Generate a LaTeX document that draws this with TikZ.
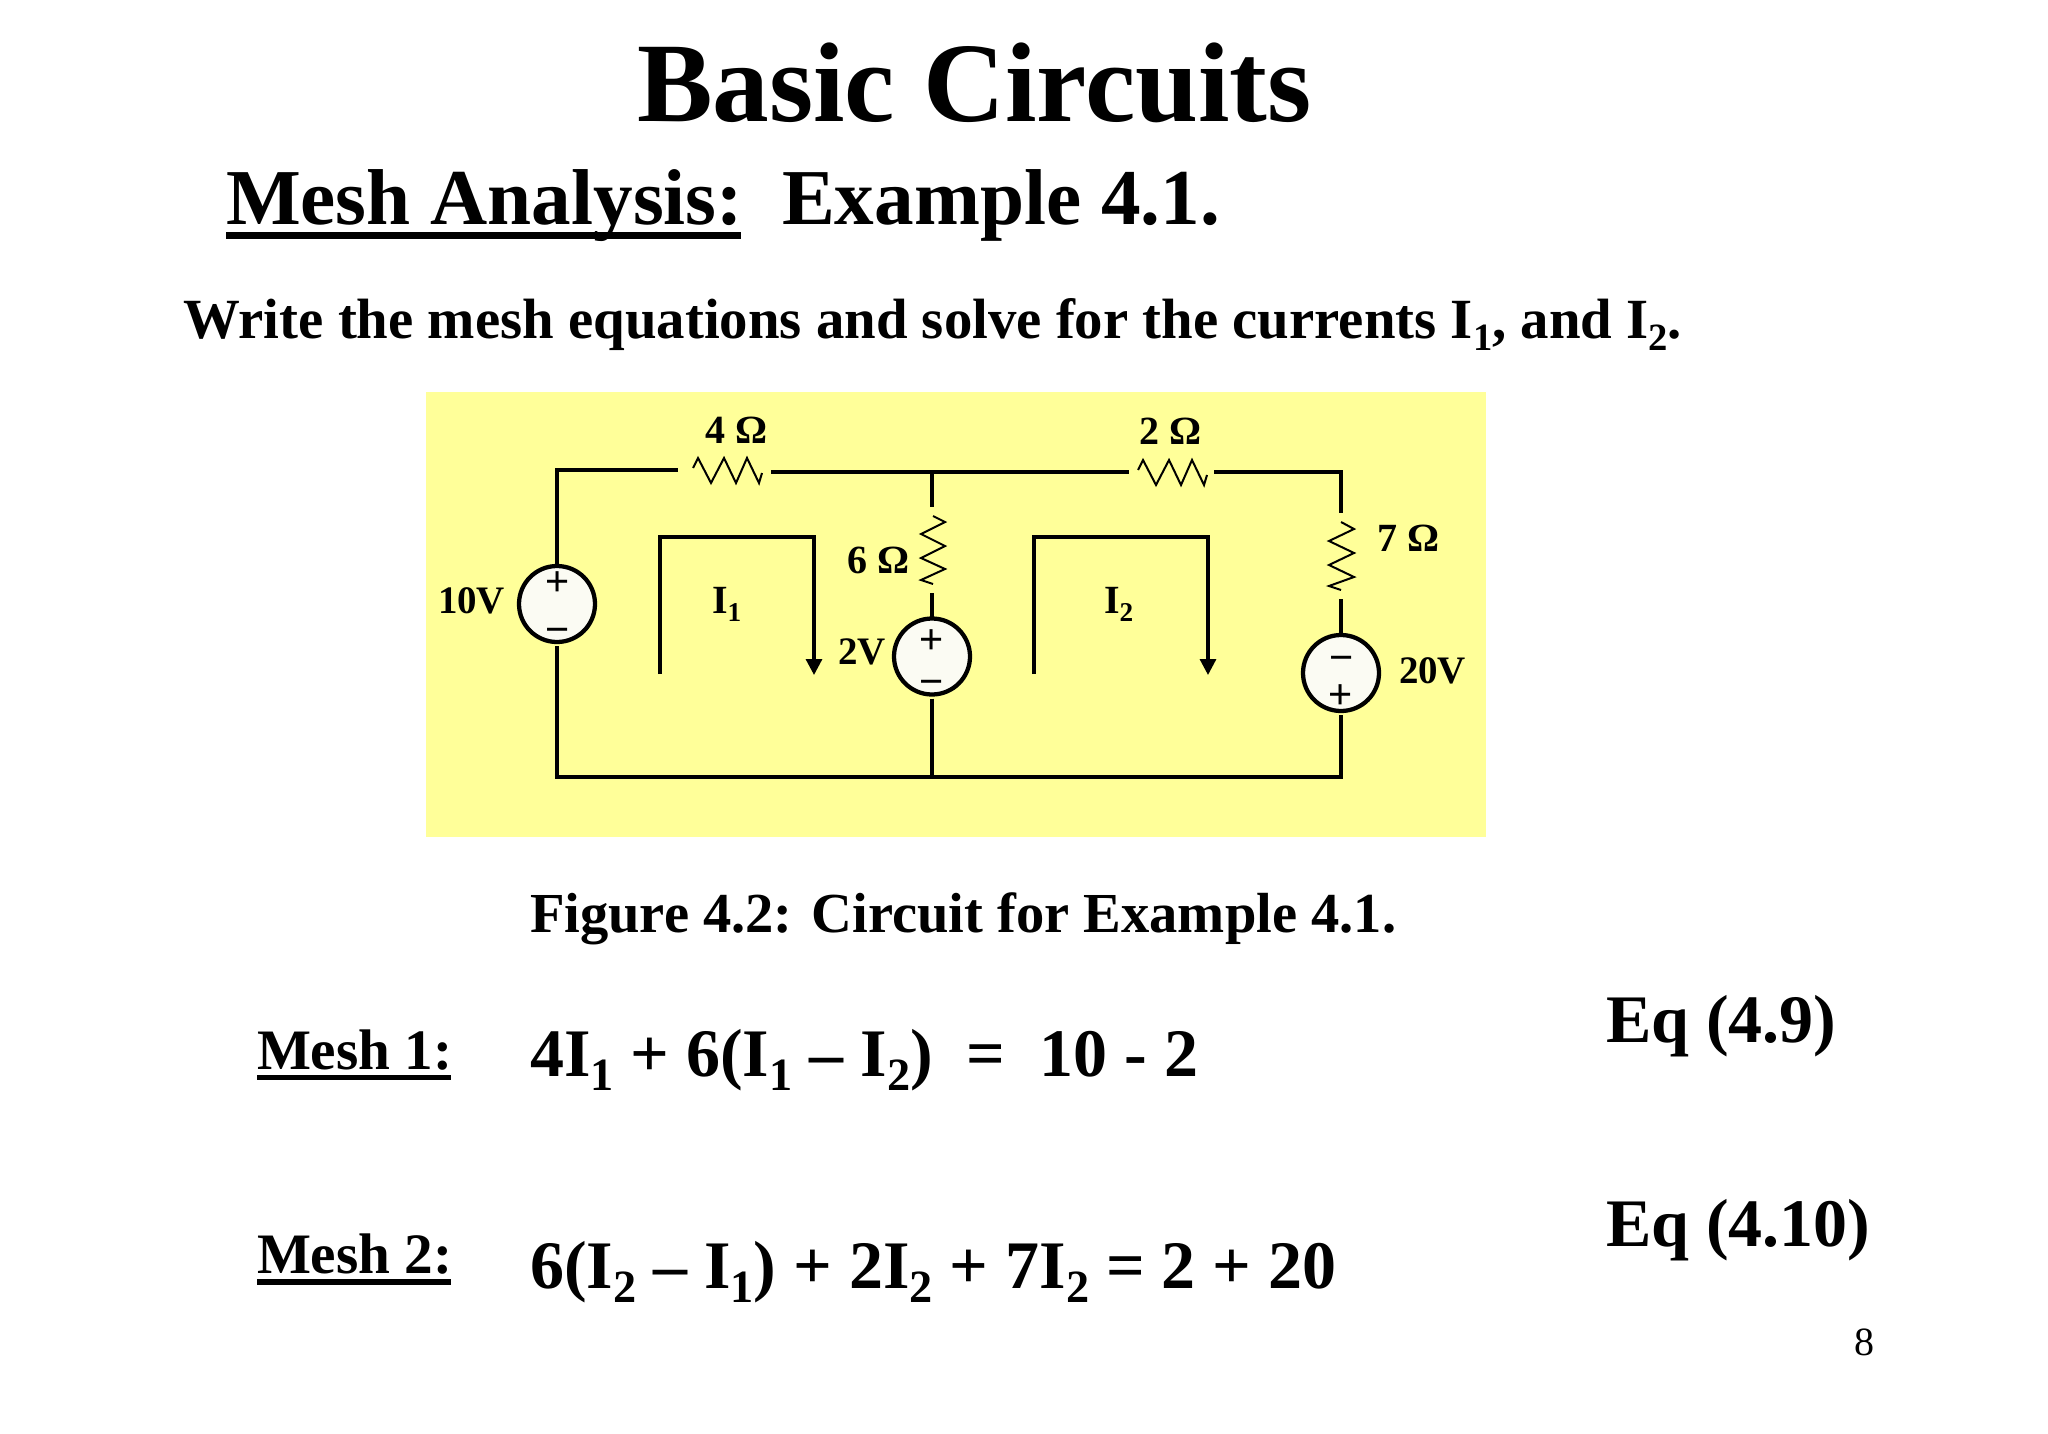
\documentclass[tikz,border=0pt]{standalone}
\usepackage{fontspec}
\setmainfont{Liberation Serif}
\newfontfamily\symfont{Liberation Sans}
\usetikzlibrary{arrows.meta,calc}
\definecolor{panel}{HTML}{FFFF99}
\definecolor{srcfill}{HTML}{FBFBF3}
\newcommand{\fs}[1]{\fontsize{#1}{#1}\selectfont}
\newcommand{\lowsub}[1]{\raisebox{-0.22em}{\scalebox{0.68}{#1}}}
\tikzset{
  txt/.style={anchor=base west,inner sep=0pt,outer sep=0pt,font=\bfseries},
  wire/.style={line width=2.6pt,line cap=butt,line join=miter},
  res/.style={line width=1.5pt,line join=miter},
  src/.style={circle,draw=black,line width=3.2pt,fill=srcfill,minimum size=57pt,inner sep=0pt,outer sep=0pt},
  sign/.style={inner sep=0pt,outer sep=0pt,font=\symfont\fs{31}},
  mesh/.style={line width=2.4pt,line join=miter,-{Triangle[length=12pt,width=12pt]}},
  ul/.style={draw=none,fill=black}
}
\begin{document}
\begin{tikzpicture}[x=0.75pt,y=-0.75pt]
\useasboundingbox (0,0) rectangle (2048,1434);
\fill[white] (0,0) rectangle (2048,1434);
% headings
\node[txt,font=\bfseries\fs{85}] (title) at (637,122) {Basic Circuits};
\node[txt,font=\bfseries\fs{59.4}] (sub) at (226,224) {Mesh Analysis:};
\fill[ul] (226,232) rectangle (741,239);
\node[txt,font=\bfseries\fs{59.4}] (ex) at (782,224) {Example 4.1.};
\node[txt,font=\bfseries\fs{42.6}] (task) at (183,338) {Write the mesh equations and solve for the currents I\lowsub{1}, and I\lowsub{2}.};
% panel
\fill[panel] (426,392) rectangle (1486,837);
% sources
\node[src] (s10) at (557,604) {};
\node[src] (s2) at (932,656.5) {};
\node[src] (s20) at (1341,673) {};
\node[sign] (p10) at (558,584) {+};
\node[sign] (n10) at (558,636) {−};
\node[sign] (p2) at (932,642) {+};
\node[sign] (n2) at (932,688) {−};
\node[sign] (n20) at (1342,664) {−};
\node[sign] (p20) at (1341,697) {+};
% resistor ends
\coordinate (r4a) at (678,470);
\coordinate (r4b) at (771,472);
\coordinate (r2a) at (1129,472);
\coordinate (r2b) at (1214,472);
\coordinate (r6a) at (932,507);
\coordinate (r6b) at (932,593);
\coordinate (r7a) at (1341,513);
\coordinate (r7b) at (1341,599);
\coordinate (jt) at (932,472);
\coordinate (jb) at (932,777);
\coordinate (br) at (1341,777);
% resistors
\draw[res] (693,468) -- (698,458) -- (711,483) -- (724,458) -- (736,483) -- (747,458) -- (759,483) -- (762,473);
\draw[res] (1138,470) -- (1143,460) -- (1156,485) -- (1169,460) -- (1181,485) -- (1192,460) -- (1204,485) -- (1207,475);
\draw[res] (933,516) -- (945,522) -- (921,534) -- (945,546) -- (921,558) -- (945,569) -- (921,580) -- (933,584);
\draw[res] (1341,522) -- (1354,529) -- (1329,541) -- (1354,553) -- (1329,565) -- (1354,577) -- (1329,586) -- (1341,590);
% wires
\draw[wire] (s10.north) |- (r4a);
\draw[wire] (r4b) -- (r2a);
\draw[wire] (r2b) -| (r7a);
\draw[wire] (jt) -- (r6a);
\draw[wire] (r6b) -- (s2.north);
\draw[wire] (r7b) -- (s20.north);
\draw[wire,shorten <=3pt] (s10.south) |- (jb);
\draw[wire,shorten <=3pt] (s20.south) |- (jb);
\draw[wire,shorten <=3pt] (s2.south) -- (jb);
% mesh currents
\coordinate (m1a) at (660,674);
\coordinate (m1b) at (660,537);
\coordinate (m1c) at (814,537);
\coordinate (m1d) at (814,675);
\coordinate (m2a) at (1034,674);
\coordinate (m2b) at (1034,537);
\coordinate (m2c) at (1208,537);
\coordinate (m2d) at (1208,675);
\draw[mesh] (m1a) -- (m1b) -- (m1c) -- (m1d);
\draw[mesh] (m2a) -- (m2b) -- (m2c) -- (m2d);
% circuit labels
\node[txt,font=\bfseries\fs{30}] (l4) at (705,443) {4 Ω};
\node[txt,font=\bfseries\fs{30}] (l2) at (1139,444) {2 Ω};
\node[txt,font=\bfseries\fs{30}] (l6) at (847,573) {6 Ω};
\node[txt,font=\bfseries\fs{30}] (l7) at (1377,551) {7 Ω};
\node[txt,font=\bfseries\fs{29.2}] (v10) at (438,613) {10V};
\node[txt,font=\bfseries\fs{29.2}] (v2) at (838,664) {2V};
\node[txt,font=\bfseries\fs{29.2}] (v20) at (1399,683) {20V};
\node[txt,font=\bfseries\fs{30}] (i1) at (712,613) {I\lowsub{1}};
\node[txt,font=\bfseries\fs{30}] (i2) at (1104,613) {I\lowsub{2}};
% caption
\node[txt,font=\bfseries\fs{42.4}] (cap) at (530,932) {Figure 4.2: Circuit for Example 4.1.};
% equations
\node[txt,font=\bfseries\fs{42.9}] (m1) at (257,1069) {Mesh 1:};
\fill[ul] (257,1075) rectangle (451,1080);
\node[txt,font=\bfseries\fs{51}] (e1) at (530,1076) {4I\lowsub{1} + 6(I\lowsub{1} – I\lowsub{2})\ \ =\ \ 10 - 2};
\node[txt,font=\bfseries\fs{42.9}] (m2) at (257,1273) {Mesh 2:};
\fill[ul] (257,1279) rectangle (451,1285);
\node[txt,font=\bfseries\fs{51}] (e2) at (530,1288) {6(I\lowsub{2} – I\lowsub{1}) + 2I\lowsub{2} + 7I\lowsub{2} = 2 + 20};
\node[txt,font=\bfseries\fs{51}] (q1) at (1606,1042) {Eq (4.9)};
\node[txt,font=\bfseries\fs{51}] (q2) at (1606,1246) {Eq (4.10)};
\node[txt,font=\fs{30}] (pg) at (1854.5,1355) {8};
\end{tikzpicture}
\end{document}
